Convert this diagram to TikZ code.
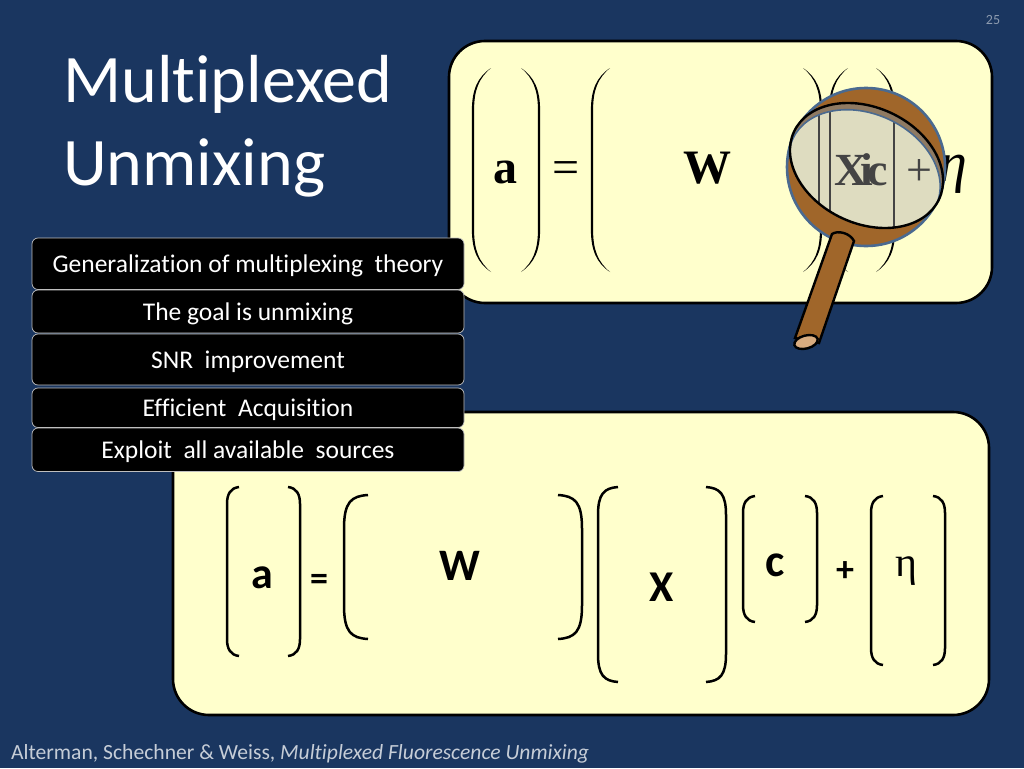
\documentclass[tikz,border=0pt]{standalone}
\usepackage{fontspec}
\setmainfont[Ligatures=NoCommon]{Carlito}
\newfontfamily\serifx{Liberation Serif}
\definecolor{bgblue}{HTML}{1A3660}
\definecolor{panel}{HTML}{FFFFCC}
\definecolor{wood}{HTML}{A0662A}
\definecolor{woodglass}{HTML}{8F7A62}
\definecolor{glass}{HTML}{DEDCC0}
\definecolor{rimblue}{HTML}{4A6A90}
\definecolor{tip}{HTML}{D8AC80}
\definecolor{mag}{HTML}{444444}
\tikzset{
  x=1pt,y=-1pt,
  panelbox/.style={draw=black,line width=2.6pt,fill=panel,rounded corners=36pt},
  pillbox/.style={draw=white!75!black,line width=0.7pt,fill=black,rounded corners=6pt},
  pilltext/.style={text=white,font=\fontsize{25.5}{28}\selectfont,inner sep=0pt,anchor=center},
  paren/.style={draw=black,line width=2.5pt},
  hand/.style={draw=black,line width=2.4pt},
}
% bold bracket: x, top, bottom, signed width
\newcommand{\brk}[4]{\draw[paren] ({#1+#4},#2) .. controls ({#1+0.3*(#4)},{#2+1}) and (#1,{#2+7}) .. (#1,{#2+1.4*abs(#4)}) -- (#1,{#3-1.4*abs(#4)}) .. controls (#1,{#3-7}) and ({#1+0.3*(#4)},{#3-1}) .. ({#1+#4},#3);}
% tapered thin paren: x, top, bottom, signed width
\newcommand{\tpar}[4]{\fill[black] ({#1+#4},#2) .. controls ({#1+0.25*(#4)},{#2+9}) and ({#1-0.06*(#4)},{#2+22}) .. ({#1-0.06*(#4)},{#2+42}) -- ({#1-0.06*(#4)},{#3-42}) .. controls ({#1-0.06*(#4)},{#3-22}) and ({#1+0.25*(#4)},{#3-9}) .. ({#1+#4},#3) .. controls ({#1+0.33*(#4)},{#3-10}) and ({#1+0.06*(#4)},{#3-22}) .. ({#1+0.06*(#4)},{#3-42}) -- ({#1+0.06*(#4)},{#2+42}) .. controls ({#1+0.06*(#4)},{#2+22}) and ({#1+0.33*(#4)},{#2+10}) .. ({#1+#4},#2) -- cycle;}
\begin{document}
\begin{tikzpicture}
\useasboundingbox (0,0) rectangle (1024,768);
\fill[bgblue] (0,0) rectangle (1024,768);
\node[text=white!50!bgblue,font=\fontsize{14}{16}\selectfont,inner sep=0pt] (pagenum) at (993,20) {25};
\node[text=white,font=\fontsize{68}{70}\selectfont,inner sep=0pt,anchor=base west] (t1) at (63,102) {Multiplexed};
\node[text=white,font=\fontsize{68}{70}\selectfont,inner sep=0pt,anchor=base west] (t2) at (63,185) {Unmixing};
% upper panel
\draw[panelbox] (449,41) rectangle (992,303);
\tpar{473}{68}{272}{18}
\tpar{539}{68}{272}{-18}
\tpar{592}{68}{272}{18}
\tpar{821}{68}{272}{-18}
\tpar{830}{68}{272}{18}
\tpar{894}{68}{272}{-18}
\node[font=\serifx\bfseries\fontsize{48}{50}\selectfont,inner sep=0pt,anchor=base] (a1) at (505.5,183) {a};
\node[font=\serifx\fontsize{48}{50}\selectfont,inner sep=0pt,anchor=base] (eq1) at (566,183) {=};
\node[font=\serifx\bfseries\fontsize{48}{50}\selectfont,inner sep=0pt,anchor=base] (w1) at (707,183) {W};
\node[font=\serifx\itshape\fontsize{56}{60}\selectfont,inner sep=0pt,anchor=base] (eta1) at (953,181) {η};
% lower panel
\draw[panelbox] (173,412) rectangle (989,715);
\brk{227}{487}{656}{12}
\brk{300}{487}{656}{-12}
\brk{344}{495}{639}{24}
\brk{582}{495}{639}{-24}
\brk{598}{487}{682}{20}
\brk{726}{487}{682}{-20}
\brk{743}{496}{622}{12}
\brk{817}{496}{622}{-12}
\brk{871}{496}{665}{12}
\brk{945}{496}{665}{-12}
\node[font=\bfseries\fontsize{44}{46}\selectfont,inner sep=0pt,anchor=base] (a2) at (262,588) {a};
\node[font=\bfseries\fontsize{36}{38}\selectfont,inner sep=0pt,anchor=base] (eq2) at (319,590) {=};
\node[font=\bfseries\fontsize{45}{48}\selectfont,inner sep=0pt,anchor=base] (w2) at (459.5,580) {W};
\node[font=\bfseries\fontsize{44}{46}\selectfont,inner sep=0pt,anchor=base] (x2) at (662,601) {X};
\node[font=\bfseries\fontsize{46}{48}\selectfont,inner sep=0pt,anchor=base] (c2) at (775,576) {c};
\node[font=\bfseries\fontsize{36}{38}\selectfont,inner sep=0pt,anchor=base] (p2) at (845,581) {+};
\node[font=\serifx\fontsize{42}{44}\selectfont,inner sep=0pt,anchor=base] (e2) at (906,576) {η};
% pills
\draw[pillbox] (32,238) rectangle (464,289.5);
\draw[pillbox] (32,290) rectangle (464,333);
\draw[pillbox] (32,334) rectangle (464,385);
\draw[pillbox] (32,388) rectangle (464,427.5);
\draw[pillbox] (32,428) rectangle (464,471.5);
\node[pilltext] (l1) at (248,266) {Generalization of multiplexing\ \ theory};
\node[pilltext] (l2) at (248,314) {The goal is unmixing};
\node[pilltext] (l3) at (248,362) {SNR\ \ improvement};
\node[pilltext] (l4) at (248,410) {Efficient\ \ Acquisition};
\node[pilltext] (l5) at (248,452) {Exploit\ \ all available\ \ sources};
% magnifier
\draw[fill=wood,draw=rimblue,line width=2.6pt] (866,167) circle (79);
\begin{scope}
  \clip (866.5,165.5) ellipse [x radius=80,y radius=58,rotate=-25];
  \fill[woodglass] (866.5,165.5) ellipse [x radius=80,y radius=58,rotate=-25];
  \begin{scope}
    \clip (864.5,172) ellipse [x radius=79,y radius=58,rotate=-25];
    \fill[glass] (864.5,172) ellipse [x radius=79,y radius=58,rotate=-25];
    \draw[mag,line width=1.4pt] (819,100) -- (819,215);
    \draw[mag,line width=1.4pt] (830,100) -- (830,220);
    \draw[mag,line width=1.4pt] (894,115) -- (894,235);
  \end{scope}
  \draw[draw=rimblue,line width=1.6pt] (864.5,172) ellipse [x radius=79,y radius=58,rotate=-25];
\end{scope}
\draw[hand] (866.5,165.5) ellipse [x radius=80,y radius=58,rotate=-25];
\node[text=mag,font=\serifx\bfseries\fontsize{46}{50}\selectfont,inner sep=0pt,anchor=base] (xic) at (861,185) {X\kern-7pt i\kern-5.5pt c};
\node[text=mag,font=\serifx\fontsize{46}{50}\selectfont,inner sep=0pt,anchor=base] (plus) at (919,185) {+};
\draw[hand,fill=wood] (832,234) .. controls (838,230) and (850,233) .. (854,241) -- (819,343) -- (795,338) -- cycle;
\draw[hand,fill=tip] (806,342) ellipse [x radius=12,y radius=6.5,rotate=15];
\node[text=white!75!bgblue,font=\fontsize{21.6}{24}\selectfont,inner sep=0pt,anchor=base west] (foot) at (11,759) {Alterman, Schechner \& Weiss, \textit{Multiplexed Fluorescence Unmixing}};
\end{tikzpicture}
\end{document}
